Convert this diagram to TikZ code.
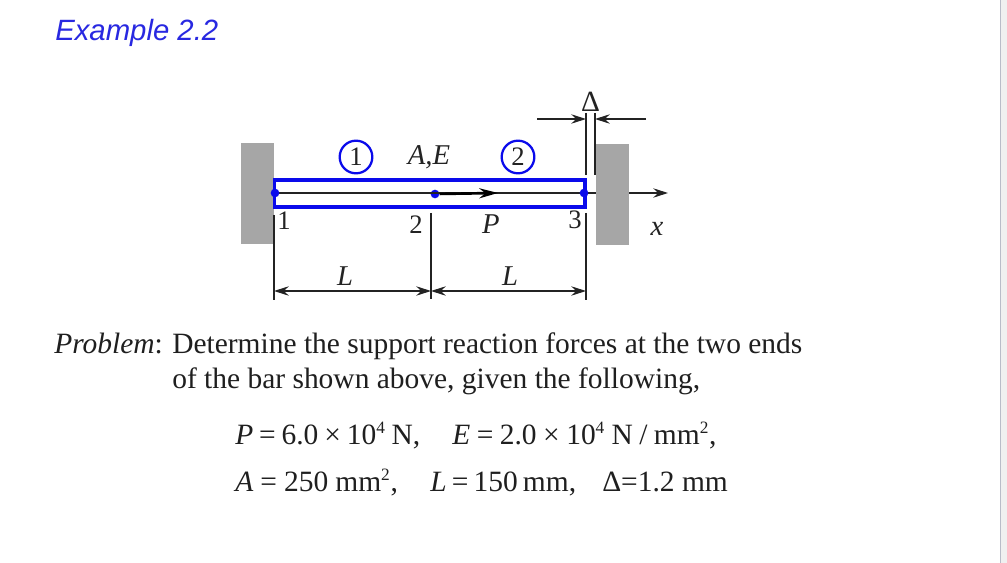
\documentclass[tikz,border=0pt]{standalone}
\usepackage{fontspec}
\setmainfont{Liberation Serif}
\newfontfamily\headfont{Liberation Sans}
\usetikzlibrary{arrows.meta}
\definecolor{barblue}{RGB}{10,10,235}
\definecolor{headblue}{RGB}{40,40,225}
\definecolor{wallgray}{RGB}{166,166,166}
\definecolor{inkgray}{RGB}{35,35,35}
\tikzset{
  wall/.style={fill=wallgray,draw=none},
  thinline/.style={draw=inkgray,line width=1pt},
  dimline/.style={thinline,{Stealth[length=11pt,width=7pt]}-{Stealth[length=11pt,width=7pt]}},
  endarrow/.style={thinline,-{Stealth[length=11pt,width=7pt]}},
  bar/.style={draw=barblue,line width=2.3pt},
  pin/.style={circle,fill=barblue,inner sep=0pt,minimum size=6.5pt},
  ring/.style={circle,draw=barblue,line width=1.7pt,inner sep=0pt,minimum size=24.5pt,font=\fontsize{20}{20}\selectfont,text=inkgray},
  lab/.style={inner sep=0pt,font=\fontsize{21.5}{21.5}\selectfont\itshape,text=inkgray},
  numlab/.style={inner sep=0pt,font=\fontsize{20}{20}\selectfont,text=inkgray},
  body/.style={anchor=base west,inner sep=0pt,font=\fontsize{22.1}{22.1}\selectfont,text=black!88}
}
\newcommand{\sq}{\textsuperscript{\fontsize{13}{13}\selectfont 2}}
\newcommand{\tf}{\textsuperscript{\fontsize{13}{13}\selectfont 4}}
\newcommand{\gpa}{\hspace{0.2em}}
\newcommand{\gpb}{\hspace{0.22em}}
\newcommand{\gpc}{\hspace{0.24em}}
\newcommand{\gpd}{\hspace{0.175em}}
\begin{document}
\begin{tikzpicture}[x=0.75pt,y=-0.75pt]
\useasboundingbox (0,0) rectangle (1007,563);
\fill[white] (0,0) rectangle (1007,563);
\fill[black!6] (1001,0) rectangle (1007,563);
\draw[color={rgb,255:red,185;green,188;blue,200},line width=1pt] (1000.5,0) -- (1000.5,563);
\node[anchor=base west,inner sep=0pt,font=\headfont\itshape\fontsize{22}{22}\selectfont,text=headblue] (title) at (55,41) {Example 2.2};
% walls
\fill[wall] (241,143) rectangle (274,244);
\fill[wall] (596,144) rectangle (629,245);
% named points
\coordinate (w1) at (275,193);
\coordinate (w2) at (596,193);
\coordinate (w3) at (629,193);
\coordinate (xe) at (668,193);
\coordinate (pe) at (498,193);
\node[pin] (n2) at (435,194) {};
% axis and bar
\draw[thinline] (w1) -- (w2);
\draw[endarrow] (w3) -- (xe);
\draw[bar] (274.5,180) rectangle (585,207);
\draw[line width=2pt,draw=black,-{Stealth[length=14pt,width=7.5pt]}] (n2) -- (pe);
\node[pin] (n1) at (275,193) {};
\node[pin] (n3) at (584,193) {};
% gap dimension
\coordinate (g1t) at (586,113); \coordinate (g1b) at (586,175);
\coordinate (g2t) at (595,113); \coordinate (g2b) at (595,175);
\draw[thinline] (g1t) -- (g1b);
\draw[thinline] (g2t) -- (g2b);
\coordinate (ga) at (537,119); \coordinate (gae) at (586,119);
\coordinate (gb) at (646,119); \coordinate (gbe) at (595,119);
\draw[endarrow] (ga) -- (gae);
\draw[endarrow] (gb) -- (gbe);
\node[numlab,font=\fontsize{22}{22}\selectfont] (delta) at (590.5,102) {Δ};
% lower dimension
\coordinate (d1t) at (274,215); \coordinate (d1b) at (274,300);
\coordinate (d2t) at (431,213); \coordinate (d2b) at (431,299);
\coordinate (d3t) at (586,213); \coordinate (d3b) at (586,300);
\draw[thinline] (d1t) -- (d1b);
\draw[thinline] (d2t) -- (d2b);
\draw[thinline] (d3t) -- (d3b);
\coordinate (a1) at (274,291); \coordinate (a2) at (431,291);
\coordinate (a3) at (586,291);
\draw[dimline] (a1) -- (a2);
\draw[dimline] (a2) -- (a3);
% labels
\node[ring] (r1) at (356,157) {1};
\node[ring] (r2) at (518,157) {2};
\node[lab] (ae) at (429,157) {A,E};
\node[numlab] (l1) at (284,221) {1};
\node[numlab] (l2) at (416,225) {2};
\node[numlab] (l3) at (575,220) {3};
\node[lab] (lp) at (491,224) {P};
\node[lab] (lx) at (657,229) {x};
\node[lab] (ll1) at (345,276) {L};
\node[lab] (ll2) at (510,276) {L};
% text
\node[body] (t1) at (54,353.5) {\textit{Problem}:};
\node[body] (t2) at (172,353.5) {Determine the support reaction forces at the two ends};
\node[body] (t3) at (172,388.5) {of the bar shown above, given the following,};
\node[body] (m1a) at (235,444) {\textit{P}\gpa=\gpa6.0\gpa×\gpa10\tf\gpa N,};
\node[body] (m1b) at (452,444) {\textit{E}\gpb=\gpb2.0\gpb×\gpb10\tf\gpb N\gpb/\gpb mm\sq,};
\node[body] (m2a) at (235,491) {\textit{A}\gpc=\gpc250\gpc mm\sq,};
\node[body] (m2b) at (430,491) {\textit{L}\gpd=\gpd150\gpd mm,};
\node[body] (m2c) at (602,491) {Δ=1.2 mm};
\end{tikzpicture}
\end{document}
